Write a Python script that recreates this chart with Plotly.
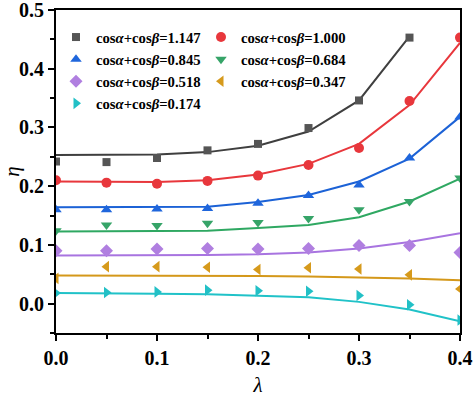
import plotly.graph_objects as go

lam = [0.0, 0.05, 0.1, 0.15, 0.2, 0.25, 0.3, 0.35, 0.4]

labels = ["1.147", "1.000", "0.845", "0.684", "0.518", "0.347", "0.174"]

# measured points (eta)
m_1147 = [0.242, 0.241, 0.248, 0.261, 0.272, 0.299, 0.346, 0.453]
m_1000 = [0.210, 0.206, 0.204, 0.209, 0.218, 0.236, 0.265, 0.345, 0.453]
m_0845 = [0.160, 0.160, 0.161, 0.162, 0.171, 0.184, 0.202, 0.248, 0.318]
m_0684 = [0.124, 0.134, 0.133, 0.137, 0.138, 0.145, 0.160, 0.174, 0.214]
m_0518 = [0.090, 0.090, 0.093, 0.094, 0.093, 0.094, 0.099, 0.099, 0.087]
m_0347 = [0.043, 0.063, 0.063, 0.062, 0.058, 0.061, 0.059, 0.049, 0.025]
m_0174 = [0.018, 0.019, 0.020, 0.023, 0.022, 0.021, 0.014, -0.002, -0.028]

# fitted curves
f_1147 = [0.253, 0.253, 0.254, 0.258, 0.269, 0.293, 0.346, 0.455]
f_1000 = [0.208, 0.207, 0.207, 0.210, 0.220, 0.238, 0.272, 0.338, 0.444]
f_0845 = [0.164, 0.164, 0.164, 0.165, 0.173, 0.185, 0.208, 0.247, 0.318]
f_0684 = [0.123, 0.123, 0.123, 0.124, 0.129, 0.134, 0.147, 0.174, 0.213]
f_0518 = [0.082, 0.082, 0.082, 0.083, 0.084, 0.087, 0.094, 0.105, 0.120]
f_0347 = [0.048, 0.048, 0.048, 0.047, 0.047, 0.046, 0.045, 0.043, 0.040]
f_0174 = [0.018, 0.018, 0.017, 0.016, 0.014, 0.011, 0.003, -0.010, -0.030]

measured = [m_1147, m_1000, m_0845, m_0684, m_0518, m_0347, m_0174]
fitted = [f_1147, f_1000, f_0845, f_0684, f_0518, f_0347, f_0174]

marker_colors = ["#555555", "#e8373c", "#1f66dc", "#36a468", "#b07fe0", "#d69a1c", "#22c0c6"]
line_colors = ["#3f3f3f", "#e8373c", "#1c62d6", "#2fa862", "#a874e0", "#d4981a", "#20c2c8"]
symbols = ["square", "circle", "triangle-up", "triangle-down", "diamond", "triangle-left", "triangle-right"]
sizes = [8, 10, 10, 10, 10, 10, 10]

fig = go.Figure()
for i in range(len(labels)):
    n = len(fitted[i])
    fig.add_trace(go.Scatter(
        x=lam[:n], y=fitted[i], mode="lines",
        line=dict(color=line_colors[i], width=2),
        showlegend=False, hoverinfo="skip"))
for i in range(len(labels)):
    n = len(measured[i])
    fig.add_trace(go.Scatter(
        x=lam[:n], y=measured[i], mode="markers",
        marker=dict(symbol=symbols[i], size=sizes[i], color=marker_colors[i], line=dict(width=0)),
        name="cos<i>α</i>+cos<i>β</i>=" + labels[i]))

tickfont = dict(family="Liberation Serif", size=20, color="black", weight="bold")

fig.update_layout(
    width=474, height=397,
    margin=dict(l=56, r=14, t=10, b=64),
    paper_bgcolor="white", plot_bgcolor="white",
    showlegend=True,
    legend=dict(
        orientation="h", x=0.0, y=0.966, xanchor="left", yanchor="top",
        entrywidth=100, entrywidthmode="pixels",
        font=dict(family="Liberation Serif", size=14.7, color="black", weight="bold"),
        bgcolor="rgba(0,0,0,0)", tracegroupgap=0, itemwidth=30),
    xaxis=dict(
        range=[0, 0.4], tickvals=[0, 0.1, 0.2, 0.3, 0.4],
        ticktext=["0.0", "0.1", "0.2", "0.3", "0.4"],
        ticks="outside", ticklen=6, tickwidth=2, tickcolor="black",
        minor=dict(dtick=0.05, tick0=0, ticks="outside", ticklen=4, tickwidth=2, tickcolor="black", showgrid=False),
        showline=True, linewidth=2, linecolor="black", mirror=True, automargin=False,
        showgrid=False, zeroline=False, tickfont=tickfont, ticklabeloverflow="allow",
        title=dict(text="<i>λ</i>", font=dict(family="Liberation Serif", size=21, color="black"), standoff=14)),
    yaxis=dict(
        range=[-0.05, 0.5], tickvals=[0, 0.1, 0.2, 0.3, 0.4, 0.5],
        ticktext=["0.0", "0.1", "0.2", "0.3", "0.4", "0.5"],
        ticks="outside", ticklen=6, tickwidth=2, tickcolor="black",
        minor=dict(dtick=0.05, tick0=0, ticks="outside", ticklen=4, tickwidth=2, tickcolor="black", showgrid=False),
        showline=True, linewidth=2, linecolor="black", mirror=True, automargin=False,
        showgrid=False, zeroline=False, tickfont=tickfont, ticklabeloverflow="allow",
        title=dict(text="<i>η</i>", font=dict(family="Liberation Serif", size=21, color="black"), standoff=6)),
)

fig.write_html("out.html", config={"displayModeBar": False, "staticPlot": True},
               post_script="document.body.style.margin='0';document.body.style.overflow='hidden';")
